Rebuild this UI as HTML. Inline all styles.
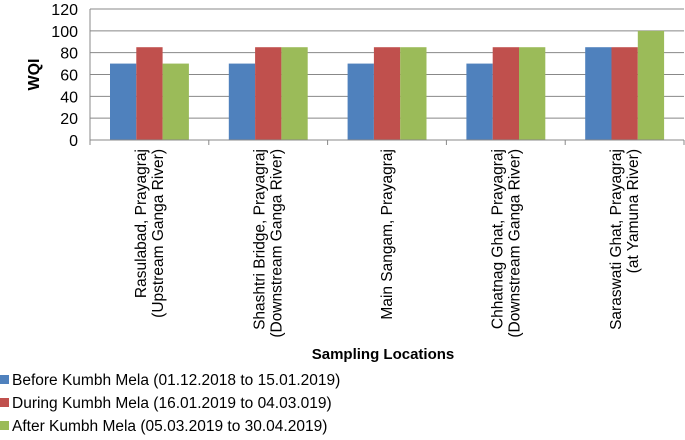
<!DOCTYPE html>
<html><head><meta charset="utf-8"><style>
body{margin:0;background:#fff;font-family:"Liberation Sans",sans-serif;}
svg text{font-family:"Liberation Sans",sans-serif;fill:#000;}
</style></head><body>
<svg width="685" height="435" id="chart"></svg>
<script>
const categories=[["Rasulabad, Prayagraj","(Upstream Ganga River)"],["Shashtri Bridge, Prayagraj","(Downstream Ganga River)"],["Main Sangam, Prayagraj"],["Chhatnag Ghat, Prayagraj","(Downstream Ganga River)"],["Saraswati Ghat, Prayagraj","(at Yamuna River)"]];
const seriesNames=["Before Kumbh Mela (01.12.2018 to 15.01.2019)","During Kumbh Mela (16.01.2019 to 04.03.019)","After Kumbh Mela (05.03.2019 to 30.04.2019)"];
const before=[70,70,70,70,85];
const during=[85,85,85,85,85];
const after=[70,85,85,85,100];
const yTicks=[0,20,40,60,80,100,120];
const colors=["#4f81bd","#c0504d","#9bbb59"];
const NS="http://www.w3.org/2000/svg";
const svg=document.getElementById('chart');
const X0=90,X1=684,Y0=140,Y1=9,YMAX=120;
const y=v=>Y0-(v/YMAX)*(Y0-Y1);
const cw=(X1-X0)/categories.length;
const x=i=>X0+i*cw;
function mk(t,a){const e=document.createElementNS(NS,t);for(const k in a)e.setAttribute(k,a[k]);svg.appendChild(e);return e;}
yTicks.forEach(v=>{
  if(v>0){const g=mk('line',{x1:X0,x2:X1,y1:y(v),y2:y(v),stroke:'#888','stroke-width':1});
  
  }
  const t=mk('text',{x:X0-12,y:y(v)+6,'text-anchor':'end','font-size':16});t.textContent=v;
  
  
});
const yt=mk('text',{transform:'translate(39,'+((Y0+Y1)/2)+') rotate(-90)','text-anchor':'middle','font-size':16,'font-weight':'bold'});yt.textContent='WQI';


const series=[before,during,after];
const bw=26.3;
series.forEach((s,si)=>s.forEach((v,i)=>{
  const r=mk('rect',{x:x(i)+20+si*bw,y:y(v),width:bw,height:Y0-y(v),fill:colors[si]});
  
  
}));
const ax=mk('line',{x1:X0,x2:X0,y1:Y1,y2:Y0+5,stroke:'#888'});


const bx=mk('line',{x1:X0,x2:X1,y1:Y0,y2:Y0,stroke:'#888'});


for(let i=0;i<=categories.length;i++){const tk=mk('line',{x1:x(i),x2:x(i),y1:Y0,y2:Y0+5,stroke:'#888'});

}
categories.forEach((lines,i)=>{
  const cx=x(i)+cw/2;const n=lines.length;
  lines.forEach((l,li)=>{
    const off=(li-(n-1)/2)*17+5;
    const t=mk('text',{transform:'translate('+(cx+off)+',149) rotate(-90)','text-anchor':'end','font-size':15.5});t.textContent=l;
    
    
  });
});
const xt=mk('text',{x:383,y:359,'text-anchor':'middle','font-size':15,'font-weight':'bold'});xt.textContent='Sampling Locations';


seriesNames.forEach((nm,i)=>{
  const yy=380+i*23;
  const r=mk('rect',{x:0,y:yy-5,width:9,height:9,fill:colors[i]});
  
  
  const t=mk('text',{x:12,y:yy+5,'font-size':15.5});t.textContent=nm;
  
  
});
</script>
</body></html>
